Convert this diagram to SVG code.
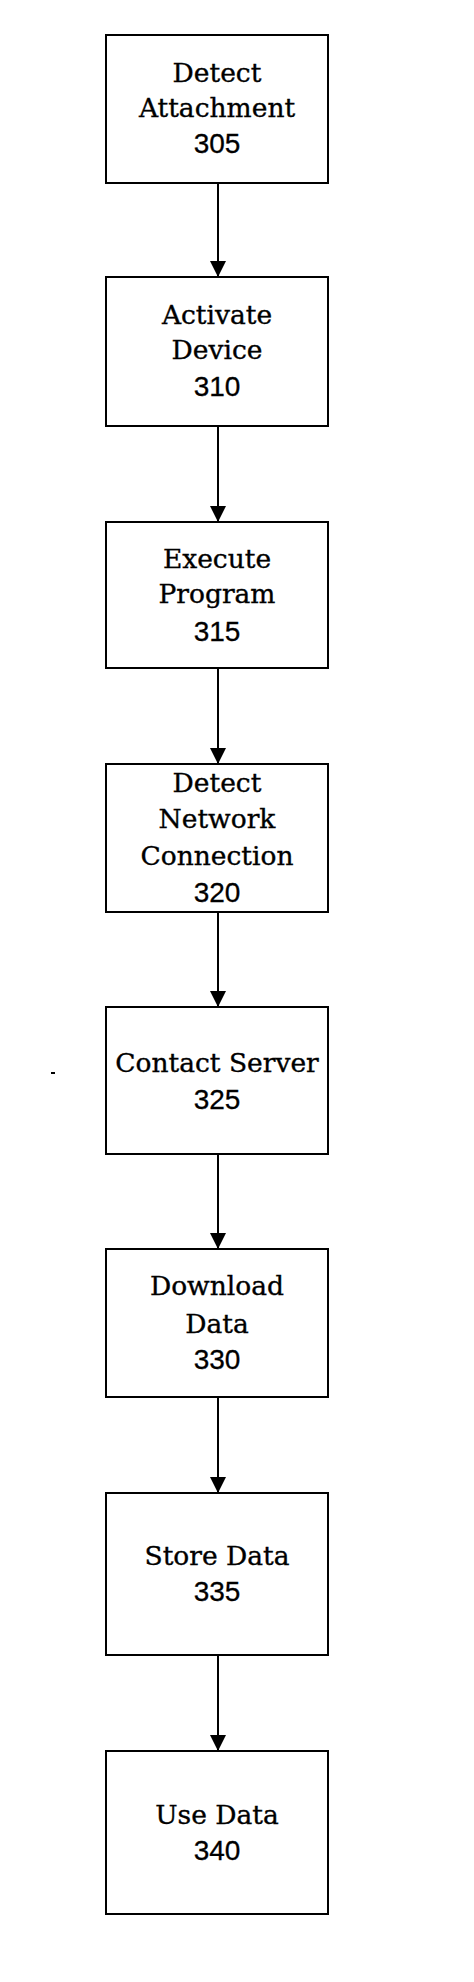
<svg xmlns="http://www.w3.org/2000/svg" width="474" height="1982" viewBox="0 0 474 1982">
<style>
.box{fill:#fff;stroke:#000;stroke-width:2}
.t{font-family:"DejaVu Serif","Liberation Serif",serif;font-size:26.5px;text-anchor:middle;fill:#000;stroke:#000;stroke-width:0.35}
.n{font-family:"Liberation Sans",Arial,sans-serif;font-size:28px;text-anchor:middle;fill:#000;stroke:#000;stroke-width:0.3}
.c{stroke:#000;stroke-width:2;fill:none}
</style>
<defs>
<marker id="ah" markerWidth="16" markerHeight="16" refX="16" refY="8" orient="auto" markerUnits="userSpaceOnUse" viewBox="0 0 16 16">
<path d="M0,0 L16,8 L0,16 Z" fill="#000"/>
</marker>
</defs>
<rect width="474" height="1982" fill="#fff"/>
<g id="connectors">
<line class="c" x1="218" y1="183" x2="218" y2="277" marker-end="url(#ah)"/>
<line class="c" x1="218" y1="426" x2="218" y2="522" marker-end="url(#ah)"/>
<line class="c" x1="218" y1="668" x2="218" y2="764" marker-end="url(#ah)"/>
<line class="c" x1="218" y1="912" x2="218" y2="1007" marker-end="url(#ah)"/>
<line class="c" x1="218" y1="1154" x2="218" y2="1249" marker-end="url(#ah)"/>
<line class="c" x1="218" y1="1397" x2="218" y2="1493" marker-end="url(#ah)"/>
<line class="c" x1="218" y1="1655" x2="218" y2="1751" marker-end="url(#ah)"/>
</g>
<g id="n305">
<rect class="box" x="106" y="35" width="222" height="148"/>
<text class="t" x="217" y="82">Detect</text>
<text class="t" x="217" y="117">Attachment</text>
<text class="n" x="217" y="153">305</text>
</g>
<g id="n310">
<rect class="box" x="106" y="277" width="222" height="149"/>
<text class="t" x="217" y="324">Activate</text>
<text class="t" x="217" y="359">Device</text>
<text class="n" x="217" y="396">310</text>
</g>
<g id="n315">
<rect class="box" x="106" y="522" width="222" height="146"/>
<text class="t" x="217" y="568">Execute</text>
<text class="t" x="217" y="603">Program</text>
<text class="n" x="217" y="641">315</text>
</g>
<g id="n320">
<rect class="box" x="106" y="764" width="222" height="148"/>
<text class="t" x="217" y="792">Detect</text>
<text class="t" x="217" y="828">Network</text>
<text class="t" x="217" y="865">Connection</text>
<text class="n" x="217" y="902">320</text>
</g>
<g id="n325">
<rect class="box" x="106" y="1007" width="222" height="147"/>
<text class="t" x="217" y="1072">Contact Server</text>
<text class="n" x="217" y="1109">325</text>
</g>
<g id="n330">
<rect class="box" x="106" y="1249" width="222" height="148"/>
<text class="t" x="217" y="1295">Download</text>
<text class="t" x="217" y="1333">Data</text>
<text class="n" x="217" y="1369">330</text>
</g>
<g id="n335">
<rect class="box" x="106" y="1493" width="222" height="162"/>
<text class="t" x="217" y="1565">Store Data</text>
<text class="n" x="217" y="1601">335</text>
</g>
<g id="n340">
<rect class="box" x="106" y="1751" width="222" height="163"/>
<text class="t" x="217" y="1824">Use Data</text>
<text class="n" x="217" y="1860">340</text>
</g>
<rect x="51" y="1072" width="4" height="2" fill="#000"/>
</svg>
